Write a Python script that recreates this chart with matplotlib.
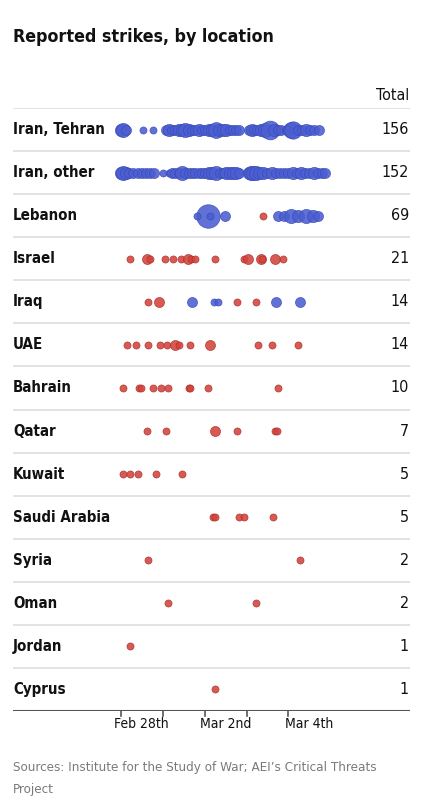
import matplotlib
matplotlib.use("Agg")
import matplotlib.pyplot as plt
import matplotlib.transforms as mtransforms

plt.rcParams['font.family'] = ['DejaVu Sans']
plt.rcParams['font.stretch'] = 'condensed'

locations = ["Iran, Tehran", "Iran, other", "Lebanon", "Israel", "Iraq", "UAE",
             "Bahrain", "Qatar", "Kuwait", "Saudi Arabia", "Syria", "Oman",
             "Jordan", "Cyprus"]
totals = [156, 152, 69, 21, 14, 14, 10, 7, 5, 5, 2, 2, 1, 1]

# days since Feb 28th 00:00, number of strikes at that moment
tehran_days = [0.00, 0.06, 0.12, 0.52, 0.76,
               1.08, 1.14, 1.22, 1.30, 1.38, 1.46, 1.53, 1.62, 1.70, 1.78, 1.86,
               1.94, 2.02, 2.10, 2.18, 2.27, 2.35, 2.43, 2.52, 2.60, 2.68, 2.75, 2.81,
               3.05, 3.12, 3.19, 3.26, 3.34, 3.45, 3.55, 3.65, 3.75, 3.82,
               3.96, 4.06, 4.12, 4.22, 4.32, 4.42, 4.52, 4.62, 4.72]
tehran_counts = [3, 4, 2, 1, 1,
                 2, 3, 2, 2, 3, 3, 4, 3, 2, 2, 3,
                 2, 2, 3, 3, 5, 3, 3, 3, 2, 2, 2, 2,
                 2, 3, 2, 2, 3, 4, 7, 3, 2, 2,
                 2, 5, 6, 2, 2, 3, 2, 2, 2]

other_days = [0.00, 0.05, 0.12, 0.20, 0.30, 0.40, 0.50, 0.60, 0.70, 0.80,
              1.02, 1.14, 1.22, 1.30, 1.38, 1.46, 1.54, 1.62, 1.70, 1.78, 1.86,
              1.94, 2.02, 2.10, 2.18, 2.27, 2.36, 2.44, 2.52, 2.60, 2.68, 2.75, 2.82,
              3.06, 3.10, 3.16, 3.22, 3.30, 3.40, 3.50, 3.60, 3.70, 3.80, 3.90,
              4.00, 4.10, 4.20, 4.30, 4.40, 4.50, 4.60, 4.70, 4.80, 4.88]
other_counts = [3, 4, 3, 2, 2, 2, 2, 2, 2, 2,
                1, 1, 2, 2, 2, 4, 2, 2, 2, 2, 2,
                2, 2, 3, 3, 4, 2, 2, 3, 3, 3, 3, 2,
                3, 4, 4, 4, 3, 3, 2, 3, 2, 2, 2,
                2, 3, 2, 3, 2, 2, 3, 2, 2, 2]

lebanon_days = [2.07, 1.83, 2.13, 2.49, 3.39, 3.74, 3.90, 4.06, 4.22, 4.42, 4.58, 4.70]
lebanon_counts = [11, 1, 1, 2, 1, 2, 2, 4, 3, 4, 3, 2]
lebanon_sides = "bbbbrbbbbbbb"

israel_days = [0.22, 0.62, 0.70, 1.06, 1.24, 1.44, 1.61, 1.68, 1.76, 2.25,
               2.93, 3.04, 3.35, 3.38, 3.69, 3.87]
israel_counts = [1, 2, 1, 1, 1, 1, 2, 1, 1, 1, 1, 2, 2, 1, 2, 1]

iraq_days = [0.66, 0.91, 1.71, 2.23, 2.33, 2.77, 3.23, 3.70, 4.28]
iraq_counts = [1, 2, 2, 1, 1, 1, 1, 2, 2]
iraq_sides = "rrbbbrrbb"

uae_days = [0.14, 0.37, 0.66, 0.94, 1.11, 1.30, 1.38, 1.65, 2.12, 3.27, 3.60, 4.24]
uae_counts = [1, 1, 1, 1, 1, 2, 1, 1, 2, 1, 1, 1]

bahrain_days = [0.06, 0.44, 0.48, 0.78, 0.95, 1.12, 1.62, 1.66, 2.09, 3.74]
bahrain_counts = [1, 1, 1, 1, 1, 1, 1, 1, 1, 1]

qatar_days = [0.62, 1.08, 2.26, 2.77, 3.69, 3.73]
qatar_counts = [1, 1, 2, 1, 1, 1]

kuwait_days = [0.05, 0.22, 0.40, 0.83, 1.46]
kuwait_counts = [1, 1, 1, 1, 1]

saudi_days = [2.21, 2.25, 2.81, 2.93, 3.64]
saudi_counts = [1, 1, 1, 1, 1]

syria_days = [0.66, 4.28]
oman_days = [1.12, 3.22]
jordan_days = [0.23]
cyprus_days = [2.26]

rows = [
    (tehran_days, tehran_counts, "b" * len(tehran_days)),
    (other_days, other_counts, "b" * len(other_days)),
    (lebanon_days, lebanon_counts, lebanon_sides),
    (israel_days, israel_counts, "r" * len(israel_days)),
    (iraq_days, iraq_counts, iraq_sides),
    (uae_days, uae_counts, "r" * len(uae_days)),
    (bahrain_days, bahrain_counts, "r" * len(bahrain_days)),
    (qatar_days, qatar_counts, "r" * len(qatar_days)),
    (kuwait_days, kuwait_counts, "r" * len(kuwait_days)),
    (saudi_days, saudi_counts, "r" * len(saudi_days)),
    (syria_days, [1] * len(syria_days), "rr"),
    (oman_days, [1] * len(oman_days), "rr"),
    (jordan_days, [1], "r"),
    (cyprus_days, [1], "r"),
]

tick_days = [0, 1, 2, 3, 4]
label_days = [0.5, 2.5, 4.5]
date_labels = ["Feb 28th", "Mar 2nd", "Mar 4th"]

face = {"b": "#4b5ed2", "r": "#d4433c"}
edge = {"b": "#3a4ab5", "r": "#a83029"}

W, H = 423, 800
fig = plt.figure(figsize=(W / 100, H / 100), dpi=100)
ax = fig.add_axes([13 / W, 1 - 711 / H, 397 / W, 603 / H])
ax.set_xlim(-2.57, 6.90)
ax.set_ylim(len(locations) - 0.5, -0.5)
ax.axis("off")

for i in range(len(locations)):
    ax.axhline(i - 0.5, color="#e3e3e3", lw=1.4, zorder=0)
ax.axhline(len(locations) - 0.5, color="#555555", lw=1.5, zorder=1)

for i, (days, counts, sides) in enumerate(rows):
    for d, c, s in zip(days, counts, sides):
        ax.scatter(d, i, s=26 * c, color=face[s], edgecolor=edge[s],
                   linewidths=0.5, alpha=0.88, zorder=3)

# ticks on day boundaries
for d in tick_days:
    ax.plot([d, d], [len(locations) - 0.5, len(locations) - 0.38],
            color="#555555", lw=1.2, clip_on=False)

lab = mtransforms.blended_transform_factory(ax.transData, fig.transFigure)
for d, t in zip(label_days, date_labels):
    ax.text(d, 1 - 724 / H, t, transform=lab, ha="center", va="center",
            fontsize=10, color="#111111")

rowt = mtransforms.blended_transform_factory(fig.transFigure, ax.transData)
for i, (name, tot) in enumerate(zip(locations, totals)):
    ax.text(13 / W, i, name, transform=rowt, ha="left", va="center",
            fontsize=10.8, fontweight="bold", color="#111111")
    ax.text(409 / W, i, str(tot), transform=rowt, ha="right", va="center",
            fontsize=11.5, color="#111111")

fig.text(13 / W, 1 - 37 / H, "Reported strikes, by location", ha="left",
         va="center", fontsize=12.8, fontweight="bold", color="#111111")
fig.text(409 / W, 1 - 95 / H, "Total", ha="right", va="center",
         fontsize=11.5, color="#111111")
fig.text(13 / W, 1 - 768 / H, "Sources: Institute for the Study of War; AEI\u2019s Critical Threats",
         ha="left", va="center", fontsize=9.6, color="#7a7a7a")
fig.text(13 / W, 1 - 790 / H, "Project", ha="left", va="center",
         fontsize=9.6, color="#7a7a7a")

fig.savefig("out.png", dpi=100, facecolor="white")
